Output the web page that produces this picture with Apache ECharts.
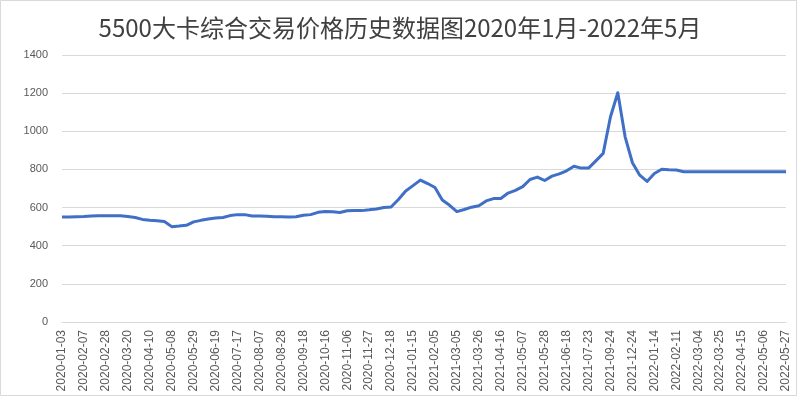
<!DOCTYPE html>
<html>
<head>
<meta charset="utf-8">
<script src="https://cdn.jsdelivr.net/npm/echarts@6/dist/echarts.min.js"></script>
<style>
html,body{margin:0;padding:0;background:#fff;}
#c{width:800px;height:398px;}
</style>
</head>
<body>
<div id="c"></div>
<script>
var titleText = '5500大卡综合交易价格历史数据图2020年1月-2022年5月';
var dates = [
'2020-01-03','2020-01-10','2020-01-17','2020-02-07','2020-02-14','2020-02-21','2020-02-28','2020-03-06','2020-03-13','2020-03-20',
'2020-03-27','2020-04-03','2020-04-10','2020-04-17','2020-04-24','2020-05-08','2020-05-15','2020-05-22','2020-05-29','2020-06-05',
'2020-06-12','2020-06-19','2020-07-03','2020-07-10','2020-07-17','2020-07-24','2020-07-31','2020-08-07','2020-08-14','2020-08-21',
'2020-08-28','2020-09-04','2020-09-11','2020-09-18','2020-09-25','2020-10-09','2020-10-16','2020-10-23','2020-10-30','2020-11-06',
'2020-11-13','2020-11-20','2020-11-27','2020-12-04','2020-12-11','2020-12-18','2020-12-25','2021-01-08','2021-01-15','2021-01-22',
'2021-01-29','2021-02-05','2021-02-19','2021-02-26','2021-03-05','2021-03-12','2021-03-19','2021-03-26','2021-04-02','2021-04-09',
'2021-04-16','2021-04-23','2021-04-30','2021-05-07','2021-05-14','2021-05-21','2021-05-28','2021-06-04','2021-06-11','2021-06-18',
'2021-07-02','2021-07-09','2021-07-23','2021-08-20','2021-09-10','2021-09-24','2021-10-15','2021-11-19','2021-12-24','2021-12-31',
'2022-01-07','2022-01-14','2022-01-21','2022-01-28','2022-02-11','2022-02-18','2022-02-25','2022-03-04','2022-03-11','2022-03-18',
'2022-03-25','2022-04-01','2022-04-08','2022-04-15','2022-04-22','2022-04-29','2022-05-06','2022-05-13','2022-05-20','2022-05-27'
];
var prices = [
550,550,552,553,556,557,557,557,557,553,
548,538,534,531,527,500,503,507,525,533,
540,545,548,558,563,563,556,556,555,552,
552,550,552,560,563,575,579,578,574,583,
584,584,588,593,600,603,642,687,715,744,
726,705,640,612,579,590,602,610,635,647,
648,676,690,710,747,760,742,765,777,793,
817,807,807,845,884,1076,1202,971,835,770,
737,779,801,798,797,788,788,788,788,788,
788,788,788,788,788,788,788,788,788,788
];
var yMin = 0, yMax = 1400, yStep = 200;

var chart = echarts.init(document.getElementById('c'), null, {renderer:'canvas'});
chart.setOption({
  animation:false,
  backgroundColor:'#fff',
  title:{
    text:titleText, left:'center', top:11,
    textStyle:{fontFamily:'Noto Sans CJK SC', fontSize:24, fontWeight:'normal', color:'#404040'}
  },
  graphic:[{
    type:'rect', shape:{x:0.5,y:0.5,width:796,height:395},
    style:{fill:null, stroke:'#d9d9d9', lineWidth:1}, silent:true
  }],
  grid:{left:62, right:14, top:55, bottom:76},
  xAxis:{
    type:'category', data:dates, boundaryGap:false,
    axisLine:{show:true, lineStyle:{color:'#d9d9d9'}},
    axisTick:{show:false},
    axisLabel:{interval:2, rotate:90, margin:8, fontSize:12, color:'#595959', fontFamily:'Liberation Sans'},
    splitLine:{show:false}
  },
  yAxis:{
    type:'value', min:yMin, max:yMax, interval:yStep,
    axisLine:{show:false}, axisTick:{show:false},
    axisLabel:{fontSize:11, color:'#595959', margin:14, fontFamily:'Liberation Sans',
      formatter:function(v){return String(v);}},
    splitLine:{lineStyle:{color:'#d9d9d9', width:1}}
  },
  series:[{
    type:'line', data:prices, showSymbol:false, symbol:'none',
    lineStyle:{color:'#3f6fc6', width:3, join:'round'},
    itemStyle:{color:'#3f6fc6'}
  }]
});
</script>
</body>
</html>
